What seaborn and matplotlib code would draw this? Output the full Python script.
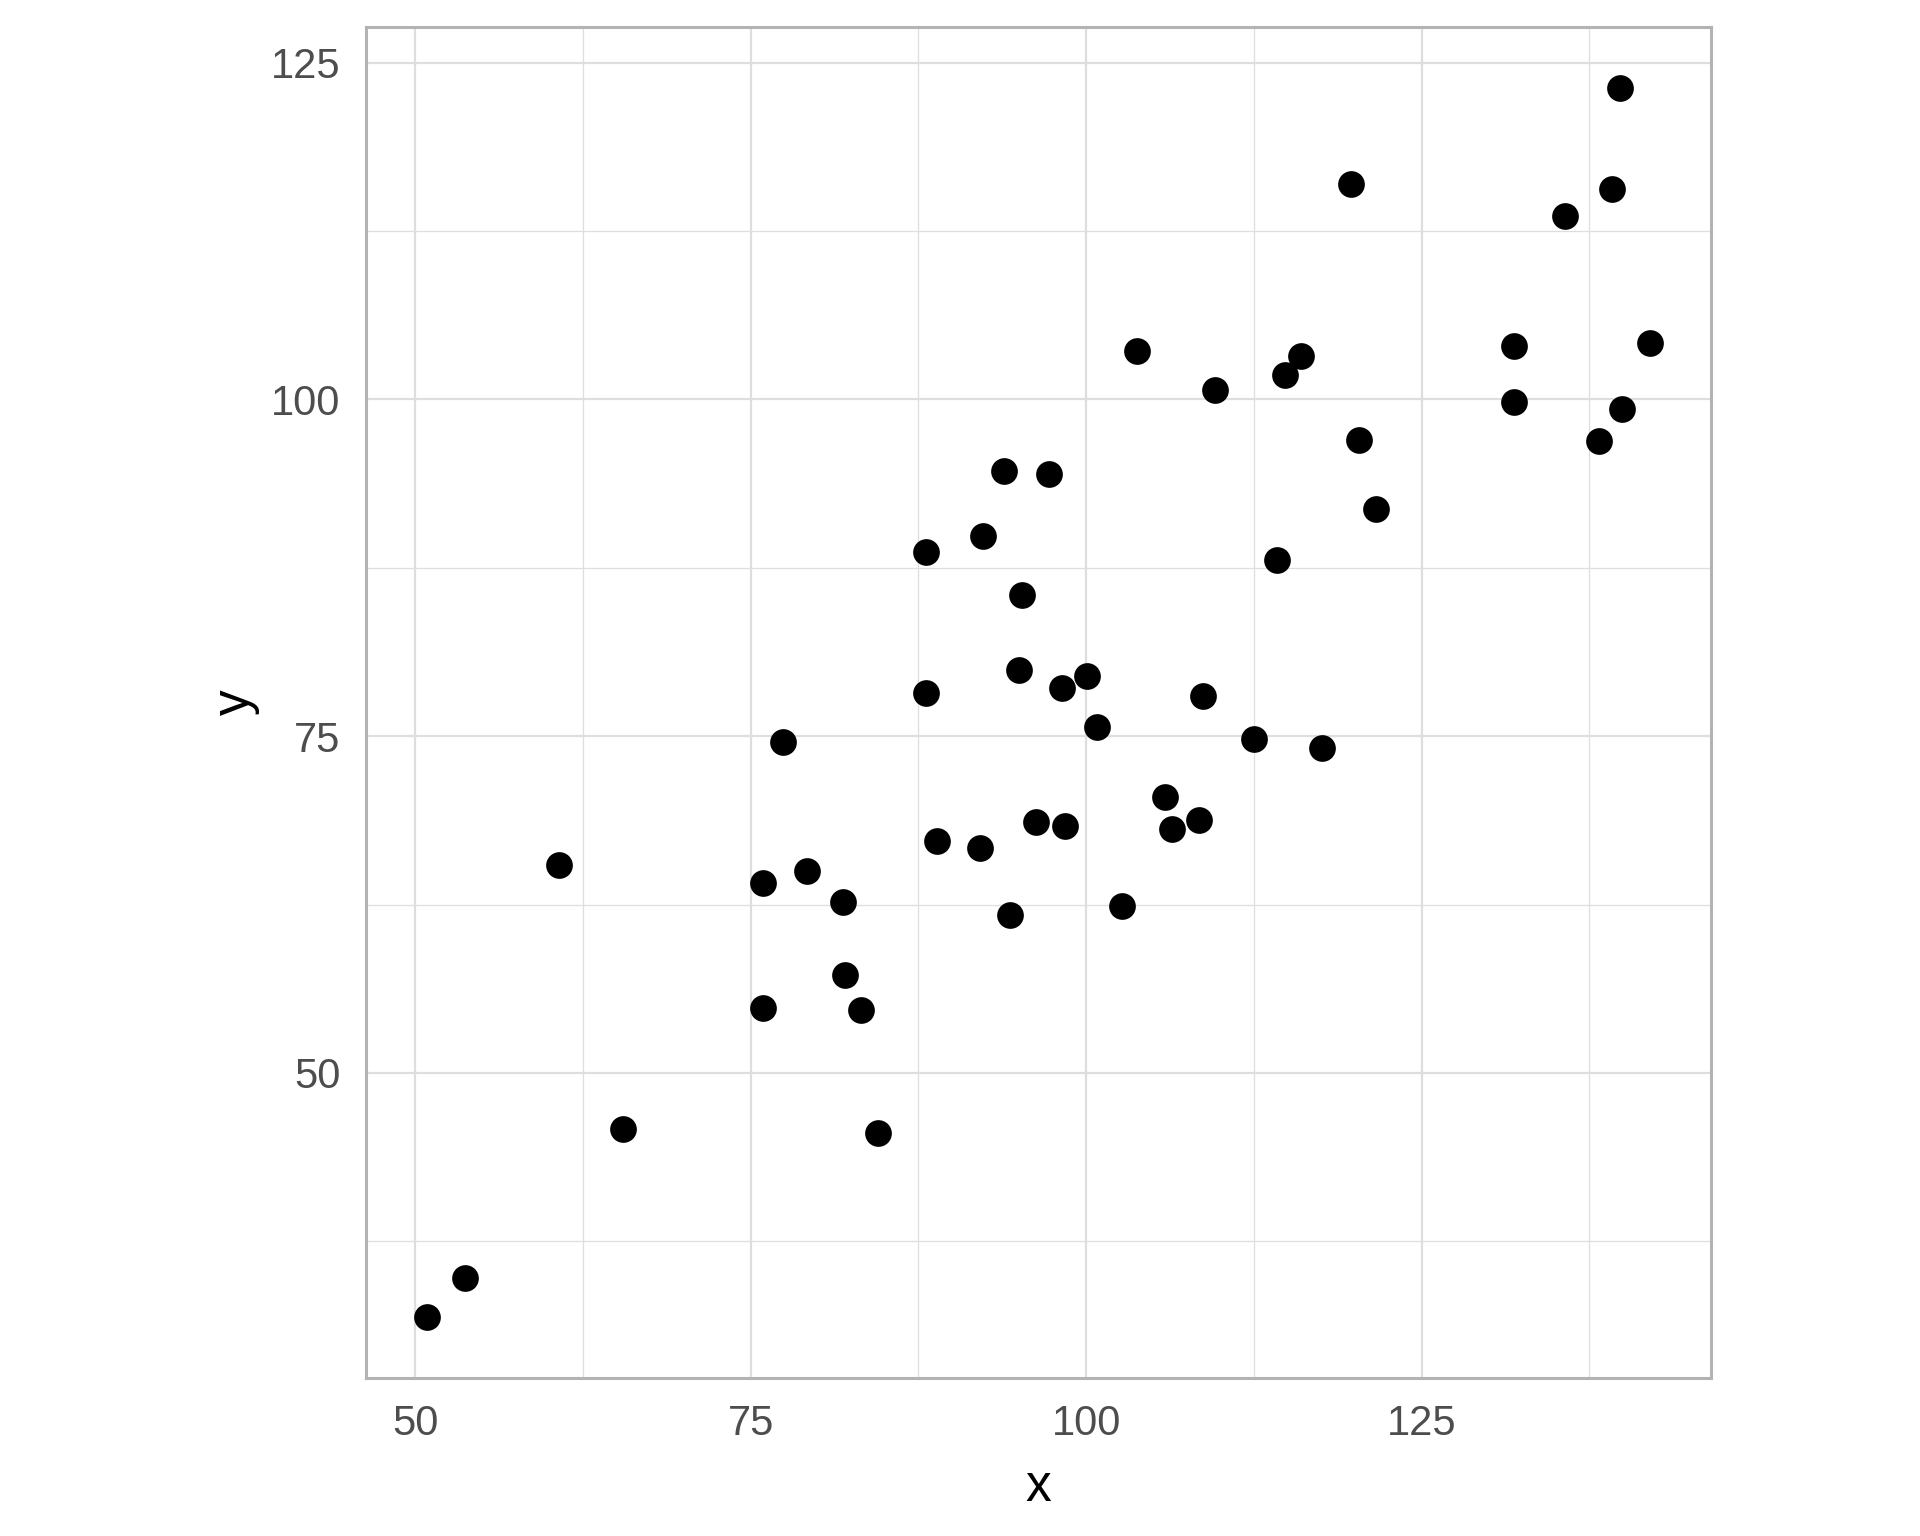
import matplotlib
matplotlib.use('Agg')

import matplotlib.pyplot as plt
import matplotlib.ticker as mticker
import seaborn as sns
import pandas as pd

# values
x_vals = [50.9, 53.7, 60.7, 65.5, 75.9, 75.9, 77.4, 79.2, 81.9, 82.0,
          83.2, 84.5, 88.1, 88.1, 88.9, 92.3, 92.1, 93.9, 94.3, 95.2,
          95.0, 97.2, 96.3, 98.2, 98.4, 100.1, 100.8, 102.7, 103.8, 105.9,
          106.4, 108.4, 108.7, 109.6, 112.5, 114.2, 114.8, 116.0, 117.6, 119.7,
          120.3, 121.6, 131.9, 131.9, 135.7, 138.2, 139.2, 139.8, 139.9, 142.0]
y_vals = [31.9, 34.8, 65.4, 45.8, 64.1, 54.8, 74.6, 65.0, 62.7, 57.3,
          54.7, 45.5, 88.7, 78.2, 67.2, 89.9, 66.7, 94.7, 61.7, 85.5,
          79.9, 94.5, 68.6, 78.6, 68.3, 79.5, 75.7, 62.4, 103.6, 70.5,
          68.1, 68.8, 78.0, 100.7, 74.8, 88.1, 101.8, 103.2, 74.1, 116.0,
          97.0, 91.9, 104.0, 99.8, 113.6, 96.9, 115.6, 123.1, 99.3, 104.2]
major_ticks = [50, 75, 100, 125]
minor_ticks = [37.5, 62.5, 87.5, 112.5, 137.5]

df = pd.DataFrame({'x': x_vals, 'y': y_vals})

sns.set_style('white')
plt.rcParams['font.family'] = ['Liberation Sans', 'DejaVu Sans']

fig = plt.figure(figsize=(19.2, 15.36), dpi=100)
ax = fig.add_axes([366 / 1920, 1 - 1378 / 1536, (1711 - 366) / 1920, (1378 - 27) / 1536])

sns.scatterplot(data=df, x='x', y='y', ax=ax, color='black', s=370,
                linewidth=0, zorder=3)

# ggplot-like expansion of 5%
xr = max(x_vals) - min(x_vals)
yr = max(y_vals) - min(y_vals)
ax.set_xlim(min(x_vals) - 0.05 * xr, max(x_vals) + 0.05 * xr)
ax.set_ylim(min(y_vals) - 0.05 * yr, max(y_vals) + 0.05 * yr)

for axis in (ax.xaxis, ax.yaxis):
    axis.set_major_locator(mticker.FixedLocator(major_ticks))
    axis.set_minor_locator(mticker.FixedLocator(minor_ticks))

ax.grid(which='major', color='#DEDEDE', linewidth=1.6, zorder=0)
ax.grid(which='minor', color='#DEDEDE', linewidth=0.9, zorder=0)
ax.set_axisbelow(True)

for sp in ax.spines.values():
    sp.set_color('#B3B3B3')
    sp.set_linewidth(2.2)

ax.tick_params(which='major', direction='out', length=9.5, width=2, color='#B3B3B3',
               labelsize=30, labelcolor='#4D4D4D', pad=9)
ax.tick_params(which='minor', length=0)

ax.set_xlabel('x', fontsize=37, color='black', labelpad=14)
ax.set_ylabel('y', fontsize=37, color='black', labelpad=8)

fig.savefig('out.png', dpi=100, facecolor='white')
